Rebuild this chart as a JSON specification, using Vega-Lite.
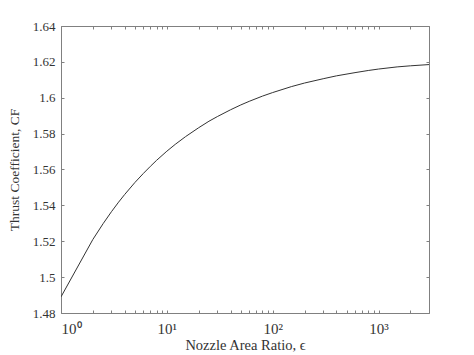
{
  "$schema": "https://vega.github.io/schema/vega-lite/v6.json",
  "width": 368,
  "height": 287,
  "autosize": {"type": "none"},
  "padding": {"left": 61, "top": 26, "right": 45, "bottom": 42},
  "background": "white",
  "config": {
    "view": {"stroke": "#808080", "strokeWidth": 1},
    "font": "Liberation Serif",
    "axis": {
      "grid": false,
      "domain": false,
      "tickColor": "#808080",
      "tickSize": -3,
      "labelFont": "Liberation Serif",
      "labelFontSize": 13,
      "labelColor": "#333333",
      "titleFont": "Liberation Serif",
      "titleFontSize": 14,
      "titleFontWeight": "normal",
      "titleColor": "#333333",
      "labelOverlap": false
    }
  },
  "data": {
    "values": [
      {"e": 1, "cf": 1.489},
      {"e": 2, "cf": 1.521},
      {"e": 2.5, "cf": 1.5298},
      {"e": 3, "cf": 1.5365},
      {"e": 3.5, "cf": 1.5418},
      {"e": 4, "cf": 1.5461},
      {"e": 5, "cf": 1.5528},
      {"e": 6, "cf": 1.5578},
      {"e": 7, "cf": 1.5618},
      {"e": 8, "cf": 1.5651},
      {"e": 10, "cf": 1.5702},
      {"e": 12, "cf": 1.5740},
      {"e": 15, "cf": 1.5783},
      {"e": 20, "cf": 1.5833},
      {"e": 25, "cf": 1.5869},
      {"e": 30, "cf": 1.5895},
      {"e": 40, "cf": 1.5933},
      {"e": 50, "cf": 1.5960},
      {"e": 60, "cf": 1.5980},
      {"e": 80, "cf": 1.6009},
      {"e": 100, "cf": 1.6029},
      {"e": 150, "cf": 1.6062},
      {"e": 200, "cf": 1.6082},
      {"e": 300, "cf": 1.6106},
      {"e": 400, "cf": 1.6122},
      {"e": 600, "cf": 1.6140},
      {"e": 800, "cf": 1.6152},
      {"e": 1000, "cf": 1.6160},
      {"e": 1500, "cf": 1.6172},
      {"e": 2000, "cf": 1.6178},
      {"e": 3000, "cf": 1.6185}
    ]
  },
  "layer": [
    {
      "mark": {"type": "line", "color": "#333333", "strokeWidth": 1, "clip": true},
      "encoding": {
        "x": {
          "field": "e", "type": "quantitative",
          "scale": {"type": "log", "domain": [1, 3000], "nice": false},
          "axis": {
            "orient": "bottom",
            "title": "Nozzle Area Ratio, ϵ",
            "titleFontSize": 14.5,
            "labelFontSize": 15,
            "values": [1,2,3,4,5,6,7,8,9,10,20,30,40,50,60,70,80,90,100,200,300,400,500,600,700,800,900,1000,2000,3000],
            "labelExpr": "datum.value == 1 ? '10⁰' : datum.value == 10 ? '10¹' : datum.value == 100 ? '10²' : datum.value == 1000 ? '10³' : ''",
            "labelPadding": 11,
            "titlePadding": 2
          }
        },
        "y": {
          "field": "cf", "type": "quantitative",
          "scale": {"domain": [1.48, 1.64], "nice": false, "zero": false},
          "axis": {
            "orient": "left",
            "title": "Thrust Coefficient, CF",
            "titleFontSize": 13.5,
            "values": [1.48, 1.5, 1.52, 1.54, 1.56, 1.58, 1.6, 1.62, 1.64],
            "format": ".2~f",
            "labelPadding": 9,
            "titlePadding": 11
          }
        }
      }
    },
    {
      "mark": {"type": "line", "opacity": 0},
      "encoding": {
        "x": {
          "field": "e", "type": "quantitative",
          "scale": {"type": "log", "domain": [1, 3000], "nice": false},
          "axis": {
            "orient": "top",
            "title": null,
            "labels": false,
            "values": [1,2,3,4,5,6,7,8,9,10,20,30,40,50,60,70,80,90,100,200,300,400,500,600,700,800,900,1000,2000,3000]
          }
        },
        "y": {
          "field": "cf", "type": "quantitative",
          "scale": {"domain": [1.48, 1.64], "nice": false, "zero": false},
          "axis": {
            "orient": "right",
            "title": null,
            "labels": false,
            "values": [1.48, 1.5, 1.52, 1.54, 1.56, 1.58, 1.6, 1.62, 1.64]
          }
        }
      }
    }
  ],
  "resolve": {"axis": {"x": "independent", "y": "independent"}}
}
